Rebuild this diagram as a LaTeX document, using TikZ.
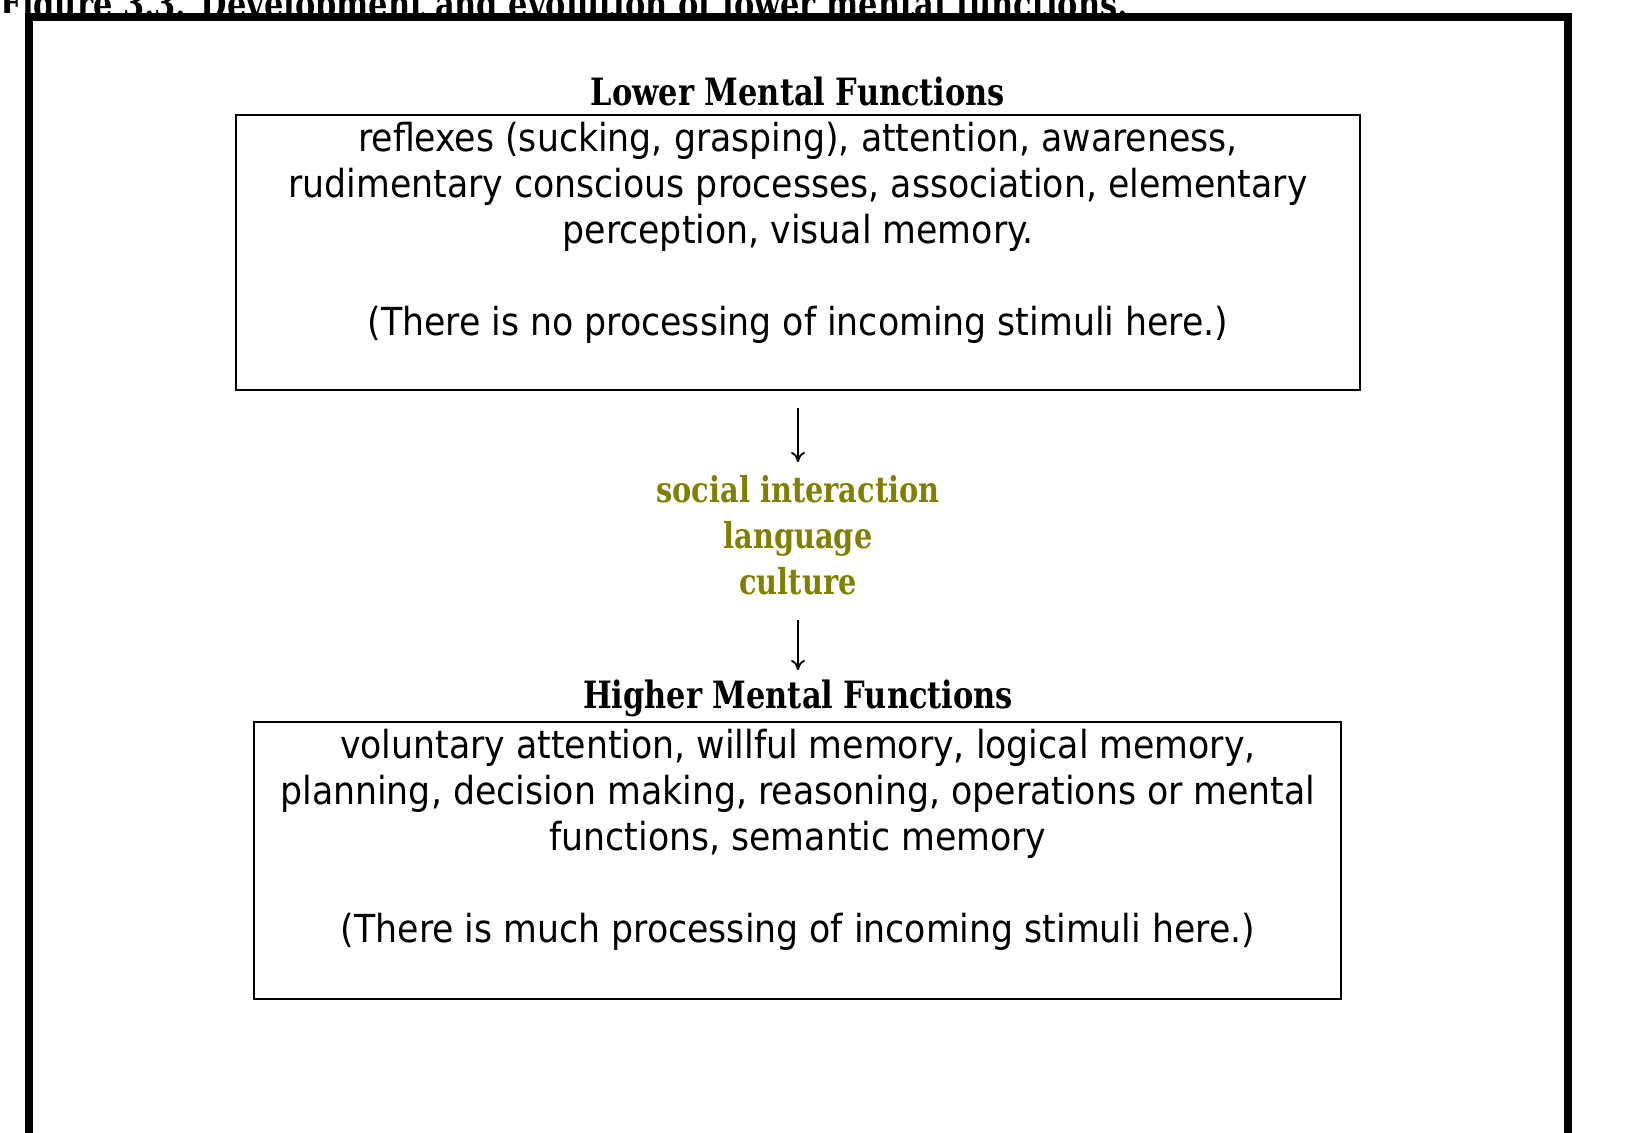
\documentclass[tikz,border=0pt]{standalone}
\usepackage{fontspec}
\usetikzlibrary{arrows.meta}
\setmainfont{DejaVu Sans Condensed}
\newfontfamily\headfont{DejaVu Serif Condensed}[FakeStretch=0.9]
\definecolor{olivetext}{HTML}{808000}
\begin{document}
\begin{tikzpicture}[x=0.5pt,y=-0.5pt,
  body/.style={font=\fontsize{19.3}{23}\selectfont,align=center,inner sep=0},
  head/.style={font=\headfont\bfseries\fontsize{18.8}{22}\selectfont,inner sep=0},
  mid/.style={font=\headfont\bfseries\fontsize{17.8}{23}\selectfont,text=olivetext,align=center,inner sep=0},
  box/.style={draw,line width=0.8pt},
  arr/.style={-{To[length=5pt,width=7pt]},line width=0.9pt}]
\useasboundingbox (0,0) rectangle (1640,1132);
\begin{scope}
\clip (0,0) rectangle (1640,1132);
\node[head,anchor=west] (title) at (0,7) {Figure 3.3. Development and evolution of lower mental functions.};
\fill[white] (0,13) rectangle (1640,1132);
\draw[line width=4pt] (29,1140) -- (29,17) -- (1568,17) -- (1568,1140);
\end{scope}
\node[head] (lh) at (798,91) {Lower Mental Functions};
\draw[box] (236,115) rectangle (1360,390);
\node[body,anchor=north] (lt) at (798,122) {reflexes (sucking, grasping), attention, awareness,\\rudimentary conscious processes, association, elementary\\perception, visual memory.\\[23pt](There is no processing of incoming stimuli here.)};
\node[mid] (m) at (798,535) {social interaction\\language\\culture};
\coordinate (a1) at (798,408);
\coordinate (a2) at (798,462);
\coordinate (a3) at (798,620);
\coordinate (a4) at (798,670);
\draw[arr] (a1) -- (a2);
\draw[arr] (a3) -- (a4);
\node[head] (hh) at (798,698) {Higher Mental Functions};
\draw[box] (254,722) rectangle (1341,999);
\node[body,anchor=north] (ht) at (798,729) {voluntary attention, willful memory, logical memory,\\planning, decision making, reasoning, operations or mental\\functions, semantic memory\\[23pt](There is much processing of incoming stimuli here.)};
\end{tikzpicture}
\end{document}
